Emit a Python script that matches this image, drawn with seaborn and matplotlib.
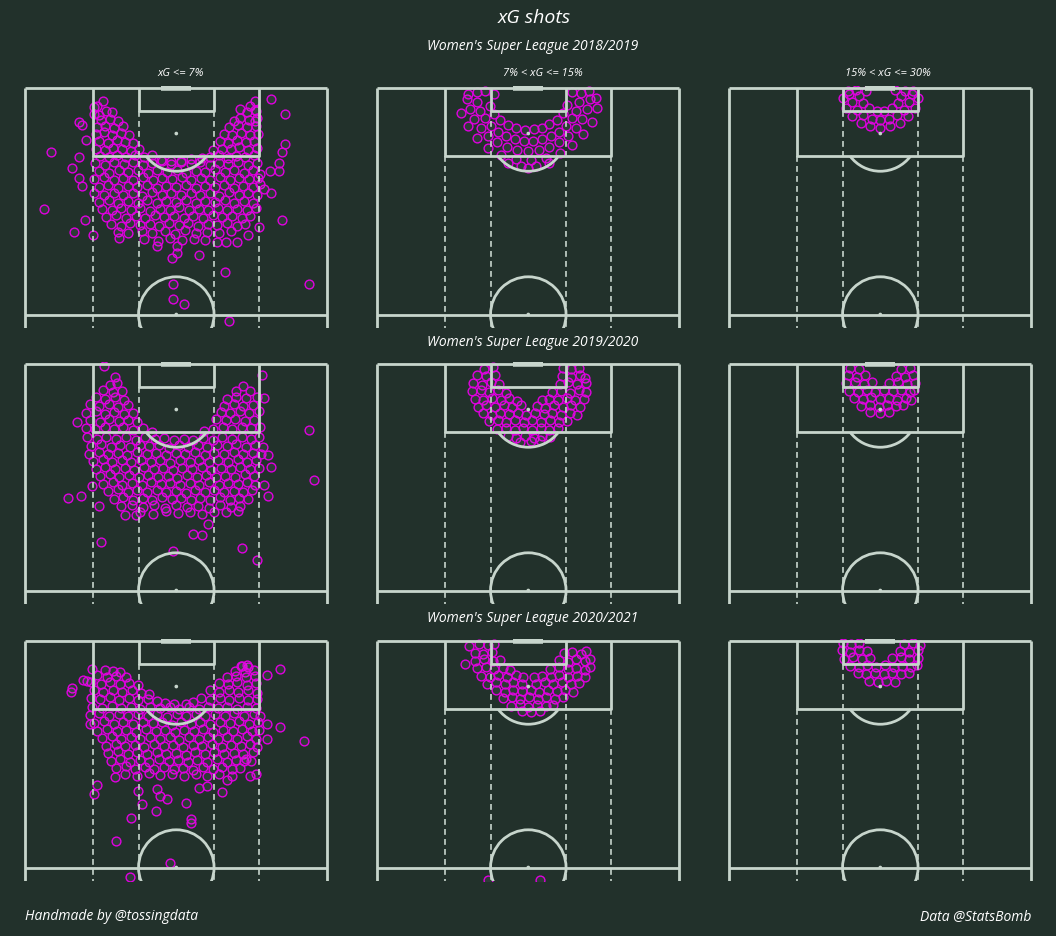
import pandas as pd
import matplotlib.pyplot as plt
import seaborn as sns
from matplotlib.patches import Arc, Circle

# shot locations (x = pitch width 0-80, y = pitch length, goal at 120)
# ---- Women's Super League 2018/2019 ----
wsl1819_low = [
    # left wing
    (20.5, 116.5), (19.0, 115.2), (21.5, 114.0), (23.0, 113.6), (19.5, 113.0), (20.0, 111.5), (22.5, 111.8),
    (24.5, 111.2), (19.0, 109.8), (21.2, 110.0), (23.5, 109.6), (25.8, 109.9), (18.6, 107.9), (20.8, 108.3),
    (23.0, 107.7), (25.3, 108.1), (27.5, 107.5), (19.5, 106.0), (21.8, 105.6), (24.2, 106.2), (26.4, 105.8),
    (28.6, 105.4), (18.8, 104.0), (21.0, 103.6), (23.3, 104.2), (25.6, 103.8), (27.9, 103.5), (30.2, 103.9),
    (19.8, 102.1), (22.1, 101.7), (24.4, 102.3), (26.8, 101.9), (29.1, 102.4), (31.4, 101.8), (33.5, 102.2),
    # right wing
    (60.8, 116.6), (59.5, 115.4), (61.2, 114.0), (58.8, 113.8), (57.0, 114.5), (61.5, 112.2), (59.3, 111.6),
    (57.0, 112.0), (55.2, 111.4), (61.0, 110.1), (58.6, 109.7), (56.3, 110.3), (54.0, 109.8), (61.6, 108.0),
    (59.4, 107.6), (57.1, 108.2), (54.8, 107.7), (52.6, 107.9), (60.7, 106.1), (58.4, 105.7), (56.0, 106.2),
    (53.7, 105.6), (51.5, 106.0), (61.3, 104.1), (59.0, 103.7), (56.7, 104.3), (54.4, 103.8), (52.1, 104.0),
    (49.8, 103.6), (60.5, 102.3), (58.2, 101.8), (55.9, 102.1), (53.6, 101.6), (51.3, 102.2), (49.0, 101.9),
    (46.8, 101.5), (36.0, 101.0), (38.5, 100.6), (41.2, 100.8), (43.8, 101.2),
    # main body
    (18.4, 100.2), (21.1, 99.6), (23.4, 100.4), (26.2, 99.8), (28.5, 100.5), (31.1, 99.7), (33.6, 100.3),
    (36.2, 100.6), (38.7, 99.9), (41.3, 100.4), (43.9, 99.8), (46.2, 100.5), (48.8, 99.6), (51.3, 100.3),
    (53.7, 99.9), (56.4, 100.4), (58.9, 99.7), (61.4, 100.2),
    (19.6, 98.1), (22.3, 97.6), (24.8, 98.4), (27.3, 97.8), (29.9, 98.3), (32.4, 97.5), (34.9, 98.2),
    (37.5, 97.7), (40.1, 98.4), (42.6, 97.6), (45.2, 98.1), (47.7, 97.8), (50.3, 98.5), (52.8, 97.7),
    (55.3, 98.2), (57.9, 97.6), (60.4, 98.3), (62.3, 97.4),
    (18.2, 96.0), (20.9, 96.5), (23.5, 95.7), (26.0, 96.3), (28.6, 95.8), (31.2, 96.4), (33.7, 95.6),
    (36.3, 96.2), (38.8, 95.9), (41.4, 96.5), (43.9, 95.7), (46.5, 96.3), (49.0, 95.8), (51.6, 96.4),
    (54.1, 95.6), (56.7, 96.1), (59.2, 95.9), (61.7, 96.3),
    (19.4, 93.9), (22.0, 94.4), (24.6, 93.6), (27.2, 94.2), (29.7, 93.7), (32.3, 94.3), (34.8, 93.5),
    (37.4, 94.1), (40.0, 93.8), (42.5, 94.4), (45.1, 93.6), (47.6, 94.2), (50.2, 93.7), (52.7, 94.3),
    (55.3, 93.5), (57.8, 94.0), (60.4, 93.8), (62.2, 94.5),
    (18.3, 92.2), (20.8, 91.6), (23.4, 92.3), (25.9, 91.7), (28.5, 92.1), (31.0, 91.5), (33.6, 92.4),
    (36.1, 91.8), (38.7, 92.2), (41.2, 91.6), (43.8, 92.3), (46.3, 91.7), (48.9, 92.1), (51.4, 91.5),
    (54.0, 92.4), (56.5, 91.8), (59.1, 92.2), (61.5, 91.6),
    (19.5, 89.8), (22.1, 90.3), (24.6, 89.6), (27.2, 90.2), (29.8, 89.7), (32.3, 90.4), (34.9, 89.5),
    (37.4, 90.1), (40.0, 89.9), (42.6, 90.3), (45.1, 89.6), (47.7, 90.2), (50.2, 89.8), (52.8, 90.4),
    (55.3, 89.6), (57.9, 90.0), (60.3, 89.7),
    (20.3, 88.1), (22.9, 87.6), (25.4, 88.3), (28.0, 87.7), (30.5, 88.2), (33.1, 87.5), (35.6, 88.0),
    (38.2, 87.8), (40.8, 88.4), (43.3, 87.6), (45.9, 88.1), (48.4, 87.7), (51.0, 88.3), (53.5, 87.6),
    (56.1, 88.0), (58.6, 87.8), (61.0, 88.2),
    (21.5, 85.9), (24.1, 86.4), (26.6, 85.7), (29.2, 86.2), (31.7, 85.6), (34.3, 86.3), (36.8, 85.8),
    (39.4, 86.1), (42.0, 85.5), (44.5, 86.2), (47.1, 85.7), (49.6, 86.4), (52.2, 85.8), (54.7, 86.1),
    (57.3, 85.6), (59.6, 86.0),
    (22.7, 84.0), (25.3, 83.6), (27.8, 84.3), (30.4, 83.7), (33.0, 84.1), (35.5, 83.5), (38.1, 84.2),
    (40.6, 83.8), (43.2, 84.3), (45.7, 83.6), (48.3, 84.0), (50.9, 83.7), (53.4, 84.2), (56.0, 83.5),
    (58.3, 84.0),
    (24.6, 82.0), (27.3, 81.6), (30.8, 82.2), (33.5, 81.5), (36.9, 82.1), (39.6, 81.4), (42.4, 82.3),
    (45.1, 81.7), (48.0, 82.0), (51.2, 81.5), (54.5, 82.1),
    (31.5, 80.1), (35.2, 79.6), (38.4, 80.3), (41.5, 79.8), (44.6, 80.0), (47.5, 79.7),
    # outliers
    (65.0, 117.1), (68.9, 113.2), (68.9, 105.2), (68.1, 103.0), (67.1, 100.1), (67.1, 98.1), (64.8, 98.1),
    (63.1, 93.2), (65.0, 92.1), (68.1, 85.0), (75.1, 68.1), (53.0, 71.2), (54.0, 58.2), (39.0, 68.1),
    (39.0, 64.1), (42.0, 62.9), (46.0, 75.9), (38.8, 74.9), (40.1, 76.2), (35.0, 78.2), (40.1, 78.2),
    (5.0, 88.1), (6.9, 103.0), (13.0, 82.0), (15.9, 85.0), (18.0, 81.0), (14.1, 101.9), (12.5, 98.8),
    (14.1, 96.1), (15.1, 94.1), (14.1, 111.0), (15.1, 110.2), (16.0, 106.2), (18.3, 115.1), (18.3, 113.2),
    (24.9, 80.2), (59.1, 81.0), (61.9, 83.3), (56.0, 79.3), (53.1, 79.3), (50.7, 79.3), (60.9, 114.2),
    (60.9, 111.2),
]
wsl1819_mid = [
    (29.8, 115.3), (31.0, 113.2), (32.6, 111.5), (34.5, 110.2), (36.8, 109.4), (39.2, 109.0), (41.5, 109.1),
    (43.6, 109.6), (45.6, 110.4), (47.5, 111.7), (49.1, 113.5), (50.3, 115.6),
    (26.5, 116.4), (27.3, 114.1), (28.5, 112.0), (30.1, 110.1), (32.0, 108.5), (34.1, 107.3), (36.4, 106.5),
    (38.8, 106.1), (41.2, 106.1), (43.6, 106.5), (45.9, 107.3), (48.0, 108.5), (49.9, 110.1), (51.5, 112.0),
    (52.7, 114.1), (53.5, 116.4),
    (23.7, 117.1), (24.5, 114.4), (25.7, 111.8), (27.4, 109.4), (29.4, 107.4), (31.8, 105.7), (34.4, 104.5),
    (37.1, 103.7), (40.0, 103.5), (42.9, 103.7), (45.6, 104.5), (48.2, 105.7), (50.6, 107.4), (52.6, 109.4),
    (54.3, 111.8), (55.5, 114.4), (56.3, 117.1),
    (22.1, 113.5), (23.9, 109.9), (26.3, 106.8), (29.4, 104.2), (32.9, 102.4), (36.7, 101.3), (40.7, 101.0),
    (44.6, 101.6), (48.3, 102.9), (51.7, 105.0), (54.6, 107.8), (56.8, 111.1), (58.3, 114.8),
    (34.5, 100.3), (38.0, 99.5), (42.0, 99.4), (45.5, 100.2), (40.0, 98.8),
    (24.0, 118.6), (26.3, 119.0), (28.6, 119.2), (30.8, 118.6), (51.5, 119.0), (53.9, 118.7), (56.2, 119.2),
    (58.0, 117.4),
]
wsl1819_high = [
    (34.4, 118.0), (35.4, 116.1), (37.0, 114.8), (39.0, 114.1), (41.0, 114.1), (43.0, 114.8), (44.6, 116.1),
    (45.6, 118.0),
    (31.6, 118.5), (32.4, 116.3), (33.7, 114.3), (35.5, 112.8), (37.7, 111.8), (40.0, 111.5), (42.3, 111.8),
    (44.5, 112.8), (46.3, 114.3), (47.6, 116.3), (48.4, 118.5),
    (30.0, 117.3), (30.9, 114.8), (32.6, 112.6), (34.8, 110.9), (37.3, 109.9), (40.0, 109.6), (42.7, 109.9),
    (45.3, 110.9), (47.4, 112.6), (49.1, 114.8), (49.9, 117.3),
    (31.5, 119.4), (33.6, 119.6), (36.2, 119.3), (46.5, 119.4), (48.6, 119.2), (44.0, 119.5),
]

# ---- Women's Super League 2019/2020 ----
wsl1920_low = [
    (23.8, 116.6), (24.3, 115.0), (22.5, 114.4), (20.6, 113.1), (23.1, 112.7), (25.6, 112.9), (18.7, 111.3),
    (21.2, 110.9), (23.7, 111.2), (26.1, 110.6), (17.1, 109.5), (19.6, 109.0), (22.1, 109.4), (24.6, 108.8),
    (27.1, 109.1), (16.2, 107.1), (18.6, 107.5), (21.1, 106.9), (23.6, 107.3), (26.1, 106.7), (28.5, 107.2),
    (17.2, 105.2), (19.7, 104.8), (22.2, 105.4), (24.7, 104.9), (27.2, 105.3), (29.7, 104.7), (31.2, 103.2),
    (16.0, 103.2), (18.5, 102.8), (21.0, 103.4), (23.5, 102.9), (26.0, 103.3), (28.5, 102.7), (33.5, 102.0),
    (57.8, 114.3), (55.8, 113.0), (59.6, 112.8), (61.3, 111.4), (58.4, 111.0), (55.9, 111.4), (53.5, 110.8),
    (60.2, 109.3), (57.7, 109.0), (55.2, 109.5), (52.6, 108.9), (61.8, 107.6), (59.3, 107.2), (56.8, 107.7),
    (54.3, 107.1), (51.8, 107.4), (60.6, 105.3), (58.1, 105.0), (55.6, 105.6), (53.1, 105.1), (50.6, 105.4),
    (62.3, 103.5), (59.8, 103.0), (57.3, 103.4), (54.8, 102.9), (52.3, 103.3), (49.8, 102.8), (47.3, 102.3),
    (16.3, 100.6), (18.9, 100.1), (21.5, 100.8), (24.1, 100.2), (26.6, 100.7), (29.2, 100.0), (31.7, 100.6),
    (34.3, 100.1), (36.8, 100.4), (39.4, 99.8), (42.0, 100.3), (44.5, 99.9), (47.1, 100.5), (49.6, 100.0),
    (52.2, 100.6), (54.7, 100.1), (57.3, 100.7), (59.8, 100.2), (62.0, 100.6),
    (17.5, 98.4), (20.1, 98.8), (22.7, 98.1), (25.2, 98.6), (27.8, 98.0), (30.3, 98.7), (32.9, 98.2),
    (35.5, 98.5), (38.0, 97.9), (40.6, 98.6), (43.1, 98.1), (45.7, 98.7), (48.2, 98.0), (50.8, 98.5),
    (53.3, 98.2), (55.9, 98.8), (58.4, 98.1), (60.9, 98.6), (63.0, 98.0),
    (16.8, 96.3), (19.4, 96.8), (21.9, 96.1), (24.5, 96.6), (27.0, 96.0), (29.6, 96.7), (32.2, 96.2),
    (34.7, 96.5), (37.3, 95.9), (39.8, 96.6), (42.4, 96.1), (44.9, 96.7), (47.5, 96.0), (50.0, 96.5),
    (52.6, 96.2), (55.2, 96.8), (57.7, 96.1), (60.2, 96.6), (62.4, 96.2),
    (17.9, 94.4), (20.5, 94.8), (23.0, 94.1), (25.6, 94.6), (28.1, 94.0), (30.7, 94.7), (33.3, 94.2),
    (35.8, 94.5), (38.4, 93.9), (40.9, 94.6), (43.5, 94.1), (46.0, 94.7), (48.6, 94.0), (51.1, 94.5),
    (53.7, 94.2), (56.3, 94.8), (58.8, 94.1), (61.2, 94.6),
    (18.6, 92.3), (21.2, 92.8), (23.7, 92.1), (26.3, 92.6), (28.8, 92.0), (31.4, 92.7), (34.0, 92.2),
    (36.5, 92.5), (39.1, 91.9), (41.6, 92.6), (44.2, 92.1), (46.7, 92.7), (49.3, 92.0), (51.9, 92.5),
    (54.4, 92.2), (57.0, 92.8), (59.5, 92.1), (61.8, 92.5),
    (19.8, 90.4), (22.4, 90.8), (24.9, 90.1), (27.5, 90.6), (30.0, 90.0), (32.6, 90.7), (35.1, 90.2),
    (37.7, 90.5), (40.3, 89.9), (42.8, 90.6), (45.4, 90.1), (47.9, 90.7), (50.5, 90.0), (53.0, 90.5),
    (55.6, 90.2), (58.1, 90.8), (60.6, 90.3),
    (20.5, 88.3), (23.1, 88.8), (25.7, 88.1), (28.2, 88.6), (30.8, 88.0), (33.3, 88.7), (35.9, 88.2),
    (38.4, 88.5), (41.0, 87.9), (43.6, 88.6), (46.1, 88.1), (48.7, 88.7), (51.2, 88.0), (53.8, 88.5),
    (56.3, 88.2), (58.8, 88.7), (60.9, 88.0),
    (22.0, 86.4), (24.6, 86.8), (27.1, 86.1), (29.7, 86.6), (32.2, 86.0), (34.8, 86.7), (37.4, 86.2),
    (39.9, 86.5), (42.5, 85.9), (45.0, 86.6), (47.6, 86.1), (50.1, 86.7), (52.7, 86.0), (55.2, 86.5),
    (57.8, 86.2), (60.1, 86.7),
    (23.4, 84.4), (26.0, 84.8), (28.5, 84.1), (31.1, 84.6), (33.6, 84.0), (36.2, 84.7), (38.8, 84.2),
    (41.3, 84.5), (43.9, 83.9), (46.4, 84.6), (49.0, 84.1), (51.5, 84.7), (54.1, 84.0), (56.6, 84.5),
    (58.9, 84.2),
    (25.4, 82.4), (28.3, 82.8), (31.2, 82.1), (34.1, 82.6), (37.0, 82.0), (39.9, 82.7), (42.8, 82.2),
    (45.7, 82.5), (48.6, 81.9), (51.5, 82.6), (54.4, 82.1), (57.0, 82.4),
    (30.5, 80.9), (33.8, 80.4), (37.2, 81.0), (40.4, 80.5), (43.6, 80.8), (46.9, 80.3), (50.0, 80.7),
    (53.2, 80.9),
    (20.9, 119.6), (62.8, 117.2), (63.3, 111.0), (75.1, 102.6), (76.5, 89.3), (64.3, 96.0), (65.2, 92.8),
    (64.4, 85.1), (63.1, 88.0), (11.4, 84.5), (14.8, 85.1), (13.6, 104.6), (19.5, 82.3), (20.1, 72.9),
    (39.1, 70.6), (57.5, 71.3), (61.5, 68.2), (44.5, 75.0), (46.8, 74.8), (48.3, 77.6), (29.4, 80.0),
    (26.4, 80.0), (56.4, 81.2), (17.6, 87.6),
]
wsl1920_mid = [
    (28.3, 118.8), (30.6, 119.2), (49.2, 119.1), (51.4, 118.7), (53.5, 119.0),
    (26.5, 117.2), (28.8, 116.8), (31.1, 117.1), (49.0, 117.0), (51.3, 116.6), (53.6, 117.2), (55.0, 116.4),
    (25.4, 115.0), (27.7, 114.6), (30.0, 115.2), (32.2, 114.7), (48.3, 114.9), (50.6, 115.3), (52.9, 114.7),
    (55.2, 115.1),
    (25.1, 112.9), (27.4, 113.3), (29.7, 112.7), (32.0, 113.1), (34.0, 112.5), (46.4, 112.6), (48.7, 113.0),
    (51.0, 112.5), (53.3, 113.2), (55.4, 112.7),
    (25.8, 110.9), (28.1, 110.5), (30.4, 111.1), (32.7, 110.6), (35.0, 111.0), (37.0, 110.3), (43.5, 110.4),
    (45.6, 110.9), (47.9, 110.4), (50.2, 111.0), (52.5, 110.5), (54.7, 110.9),
    (26.6, 108.8), (28.9, 109.3), (31.2, 108.7), (33.5, 109.1), (35.8, 108.6), (38.1, 109.2), (42.2, 109.0),
    (44.5, 108.5), (46.8, 109.1), (49.1, 108.6), (51.4, 109.2), (53.6, 108.8),
    (28.0, 107.1), (30.3, 106.6), (32.6, 107.2), (34.9, 106.7), (37.2, 107.0), (39.5, 106.5), (41.8, 107.2),
    (44.1, 106.7), (46.4, 107.1), (48.7, 106.6), (51.0, 107.0), (52.8, 106.5),
    (29.6, 104.9), (31.9, 105.3), (34.2, 104.7), (36.5, 105.2), (38.8, 104.8), (41.1, 105.3), (43.4, 104.7),
    (45.7, 105.1), (48.0, 104.6), (50.3, 105.0),
    (31.8, 102.8), (34.1, 103.2), (36.4, 102.6), (38.7, 103.1), (41.0, 102.7), (43.3, 103.2), (45.6, 102.7),
    (47.9, 103.0),
    (34.5, 101.0), (36.8, 100.5), (39.1, 100.9), (41.4, 100.4), (43.7, 101.0), (45.8, 100.6),
    (37.8, 99.4), (40.6, 99.6), (43.0, 99.8),
]
wsl1920_high = [
    (32.1, 119.0), (34.4, 118.7), (45.6, 118.8), (47.8, 119.1),
    (31.4, 117.1), (33.7, 116.7), (36.0, 117.2), (44.2, 117.0), (46.5, 116.6), (48.6, 117.1),
    (31.0, 115.0), (33.3, 115.3), (35.6, 114.8), (37.8, 115.2), (42.4, 115.0), (44.7, 115.3), (47.0, 114.8),
    (49.2, 115.1),
    (31.8, 113.0), (34.1, 112.6), (36.4, 113.1), (38.7, 112.7), (41.0, 113.2), (43.3, 112.8), (45.6, 113.1),
    (47.9, 112.6), (49.0, 113.3),
    (33.0, 111.1), (35.3, 110.7), (37.6, 111.2), (39.9, 110.8), (42.2, 111.1), (44.5, 110.6), (46.8, 111.0),
    (48.0, 110.5),
    (35.0, 109.0), (37.3, 109.3), (39.6, 108.8), (41.9, 109.2), (44.2, 108.9), (46.0, 109.3),
    (37.4, 107.3), (39.9, 107.0), (42.3, 107.4),
]

# ---- Women's Super League 2020/2021 ----
wsl2021_low = [
    (21.0, 112.4), (23.3, 112.1), (25.2, 111.9), (19.0, 111.0), (21.6, 110.6), (24.1, 110.9), (26.6, 110.4),
    (17.5, 109.1), (20.0, 108.7), (22.5, 109.2), (25.0, 108.6), (27.5, 109.0), (29.8, 108.3), (18.2, 107.0),
    (20.7, 106.6), (23.2, 107.1), (25.7, 106.5), (28.2, 107.0), (30.7, 106.4), (32.8, 105.9), (17.4, 105.0),
    (19.9, 104.6), (22.4, 105.1), (24.9, 104.5), (27.4, 105.0), (29.9, 104.4), (32.4, 104.8), (34.9, 104.2),
    (37.0, 103.6),
    (57.5, 113.5), (59.0, 113.2), (55.6, 112.2), (58.2, 111.9), (60.6, 112.3), (53.4, 110.6), (55.9, 110.9),
    (58.4, 110.4), (60.9, 110.8), (51.2, 109.0), (53.7, 108.6), (56.2, 109.1), (58.7, 108.5), (61.2, 108.9),
    (48.9, 107.1), (51.4, 106.6), (53.9, 107.1), (56.4, 106.5), (58.9, 107.0), (61.3, 106.4), (46.5, 105.0),
    (49.0, 104.5), (51.5, 105.0), (54.0, 104.4), (56.5, 104.9), (59.0, 104.3), (61.5, 104.8), (42.5, 103.5),
    (44.5, 103.9), (39.5, 103.3),
    (17.8, 102.6), (20.3, 102.2), (22.9, 102.8), (25.4, 102.3), (28.0, 102.7), (30.5, 102.1), (33.1, 102.6),
    (35.6, 102.2), (38.2, 102.5), (40.8, 102.0), (43.3, 102.6), (45.9, 102.1), (48.4, 102.7), (51.0, 102.2),
    (53.5, 102.6), (56.1, 102.1), (58.6, 102.7), (61.1, 102.3),
    (17.1, 100.5), (19.6, 100.9), (22.2, 100.2), (24.7, 100.7), (27.3, 100.1), (29.8, 100.8), (32.4, 100.3),
    (35.0, 100.6), (37.5, 100.0), (40.1, 100.7), (42.6, 100.2), (45.2, 100.8), (47.7, 100.1), (50.3, 100.6),
    (52.8, 100.3), (55.4, 100.9), (57.9, 100.2), (60.5, 100.7), (62.3, 100.1),
    (18.3, 98.4), (20.9, 98.8), (23.4, 98.1), (26.0, 98.6), (28.5, 98.0), (31.1, 98.7), (33.7, 98.2),
    (36.2, 98.5), (38.8, 97.9), (41.3, 98.6), (43.9, 98.1), (46.4, 98.7), (49.0, 98.0), (51.5, 98.5),
    (54.1, 98.2), (56.7, 98.8), (59.2, 98.1), (61.6, 98.6),
    (19.1, 96.3), (21.7, 96.8), (24.2, 96.1), (26.8, 96.6), (29.3, 96.0), (31.9, 96.7), (34.5, 96.2),
    (37.0, 96.5), (39.6, 95.9), (42.1, 96.6), (44.7, 96.1), (47.2, 96.7), (49.8, 96.0), (52.3, 96.5),
    (54.9, 96.2), (57.5, 96.8), (60.0, 96.1), (62.0, 96.5),
    (20.3, 94.4), (22.9, 94.8), (25.4, 94.1), (28.0, 94.6), (30.5, 94.0), (33.1, 94.7), (35.7, 94.2),
    (38.2, 94.5), (40.8, 93.9), (43.3, 94.6), (45.9, 94.1), (48.4, 94.7), (51.0, 94.0), (53.5, 94.5),
    (56.1, 94.2), (58.7, 94.8), (61.0, 94.1),
    (21.3, 92.3), (23.9, 92.8), (26.4, 92.1), (29.0, 92.6), (31.5, 92.0), (34.1, 92.7), (36.7, 92.2),
    (39.2, 92.5), (41.8, 91.9), (44.3, 92.6), (46.9, 92.1), (49.4, 92.7), (52.0, 92.0), (54.5, 92.5),
    (57.1, 92.2), (59.6, 92.7), (61.5, 92.0),
    (22.0, 90.4), (24.6, 90.8), (27.1, 90.1), (29.7, 90.6), (32.2, 90.0), (34.8, 90.7), (37.4, 90.2),
    (39.9, 90.5), (42.5, 89.9), (45.0, 90.6), (47.6, 90.1), (50.1, 90.7), (52.7, 90.0), (55.2, 90.5),
    (57.8, 90.2), (60.2, 90.6),
    (22.6, 88.3), (25.2, 88.8), (27.7, 88.1), (30.3, 88.6), (32.8, 88.0), (35.4, 88.7), (38.0, 88.2),
    (40.5, 88.5), (43.1, 87.9), (45.6, 88.6), (48.2, 88.1), (50.7, 88.7), (53.3, 88.0), (55.8, 88.5),
    (58.0, 88.2),
    (24.0, 86.4), (26.6, 86.8), (29.1, 86.1), (31.7, 86.6), (34.2, 86.0), (36.8, 86.7), (39.4, 86.2),
    (41.9, 86.5), (44.5, 85.9), (47.0, 86.6), (49.6, 86.1), (52.1, 86.7), (54.7, 86.0), (57.0, 86.4),
    (26.5, 84.8), (29.6, 84.4), (32.7, 85.0), (35.8, 84.5), (38.9, 84.9), (42.0, 84.3), (45.1, 84.8),
    (48.2, 84.4), (51.3, 84.9),
    (67.4, 112.7), (64.1, 111.0), (64.0, 98.0), (67.6, 97.4), (73.9, 93.5), (63.9, 94.2), (12.3, 107.7),
    (12.2, 106.5), (15.4, 109.8), (16.3, 109.5), (17.1, 98.1), (19.0, 82.0), (18.3, 79.6), (23.7, 83.9),
    (29.9, 80.2), (31.0, 76.9), (35.0, 80.9), (35.6, 78.9), (37.6, 78.1), (42.6, 77.0), (34.7, 74.9),
    (44.0, 72.8), (44.0, 71.8), (28.1, 73.1), (23.9, 66.9), (38.4, 61.2), (27.7, 57.6), (52.1, 80.0),
    (45.9, 81.2), (48.0, 81.6), (53.5, 83.2), (54.8, 84.4), (59.4, 84.4), (61.0, 84.7), (58.4, 88.7),
    (59.9, 88.2), (17.8, 112.6), (57.2, 113.4), (58.8, 113.6),
]
wsl2021_mid = [
    (24.2, 118.7), (27.0, 119.2), (29.3, 118.9), (31.0, 119.3),
    (25.8, 117.0), (28.0, 116.6), (30.3, 117.1), (49.4, 116.8), (51.7, 117.2), (54.0, 116.7), (55.3, 117.4),
    (26.0, 114.9), (28.3, 115.3), (30.6, 114.7), (32.6, 115.1), (48.1, 115.0), (50.4, 114.6), (52.7, 115.2),
    (55.0, 114.8), (56.4, 115.3),
    (23.3, 114.1), (26.4, 112.8), (28.7, 113.2), (31.0, 112.6), (33.3, 113.0), (35.2, 112.5), (45.8, 112.7),
    (48.1, 113.1), (50.4, 112.6), (52.7, 113.0), (55.0, 112.5), (56.4, 113.2),
    (27.5, 110.9), (29.8, 110.5), (32.1, 111.1), (34.4, 110.6), (36.7, 111.0), (38.6, 110.4), (41.6, 110.6),
    (43.6, 110.9), (45.9, 110.4), (48.2, 111.0), (50.5, 110.5), (52.8, 110.9), (55.0, 110.4),
    (29.1, 108.8), (31.4, 109.3), (33.7, 108.7), (36.0, 109.1), (38.3, 108.6), (42.0, 108.8), (44.3, 109.2),
    (46.6, 108.7), (48.9, 109.1), (51.2, 108.6), (53.5, 109.0),
    (31.4, 107.1), (33.7, 106.6), (36.0, 107.2), (38.3, 106.7), (40.6, 107.1), (42.9, 106.6), (45.2, 107.2),
    (47.5, 106.7), (49.8, 107.0), (51.8, 106.6),
    (33.3, 104.9), (35.6, 105.3), (37.9, 104.7), (40.2, 105.2), (42.5, 104.8), (44.8, 105.3), (47.1, 104.7),
    (49.3, 105.1),
    (35.4, 102.9), (37.7, 103.3), (40.0, 102.7), (42.3, 103.2), (44.6, 102.8), (46.6, 103.1),
    (38.4, 101.4), (40.8, 101.2), (43.0, 101.6),
    (29.2, 56.6), (43.2, 56.6),
]
wsl2021_high = [
    (30.0, 119.5), (32.2, 119.2), (34.4, 119.6), (46.4, 119.4), (48.6, 119.6), (50.4, 119.1),
    (29.8, 117.6), (32.1, 117.2), (34.4, 117.7), (36.6, 117.3), (45.3, 117.5), (47.6, 117.1), (49.9, 117.6),
    (30.5, 115.4), (32.8, 115.8), (35.1, 115.3), (37.4, 115.7), (43.1, 115.5), (45.4, 115.8), (47.7, 115.3),
    (50.0, 115.6),
    (32.0, 113.5), (34.3, 113.1), (36.6, 113.6), (38.9, 113.2), (41.2, 113.6), (43.5, 113.1), (45.8, 113.5),
    (48.1, 113.2), (49.8, 113.7),
    (34.0, 111.6), (36.3, 111.2), (38.6, 111.7), (40.9, 111.3), (43.2, 111.7), (45.5, 111.2), (47.5, 111.5),
    (37.0, 109.6), (39.3, 109.2), (41.6, 109.5), (43.9, 109.3),
]

seasons = ["Women's Super League 2018/2019", "Women's Super League 2019/2020",
           "Women's Super League 2020/2021"]
bins = ['xG <= 7%', '7% < xG <= 15%', '15% < xG <= 30%']
shots = [[wsl1819_low, wsl1819_mid, wsl1819_high],
         [wsl1920_low, wsl1920_mid, wsl1920_high],
         [wsl2021_low, wsl2021_mid, wsl2021_high]]

bg = '#22312b'
line_col = '#c7d5cc'
shot_col = '#e000e0'

plt.rcParams['font.family'] = ['Open Sans', 'DejaVu Sans']
plt.rcParams['font.style'] = 'italic'


def draw_pitch(ax):
    # pitch lines sit on top of the shots
    kw = dict(color=line_col, lw=2, solid_capstyle='butt', zorder=4)
    ax.plot([0, 0], [50, 120], **kw)
    ax.plot([80, 80], [50, 120], **kw)
    ax.plot([0, 80], [120, 120], **kw)
    ax.plot([0, 80], [60, 60], **kw)
    ax.plot([18, 18, 62, 62], [120, 102, 102, 120], **kw)
    ax.plot([30, 30, 50, 50], [120, 114, 114, 120], **kw)
    ax.plot([36, 44], [120.2, 120.2], color=line_col, lw=4, solid_capstyle='butt', zorder=4)
    ax.add_patch(Arc((40, 108), 20, 20, theta1=216.87, theta2=323.13, color=line_col, lw=2, zorder=4))
    ax.add_patch(Circle((40, 60), 10, fill=False, ec=line_col, lw=2, zorder=4))
    ax.add_patch(Circle((40, 108), 0.3, color=line_col, zorder=4))
    ax.add_patch(Circle((40, 60), 0.3, color=line_col, zorder=4))
    dkw = dict(color=line_col, lw=1.2, ls=(0, (3.5, 2.5)), zorder=4)
    for x in (18, 62):
        ax.plot([x, x], [102, 50], **dkw)
    for x in (30, 50):
        ax.plot([x, x], [114, 50], **dkw)


fig = plt.figure(figsize=(10.56, 9.36), dpi=100, facecolor=bg)
W, H = 1056, 936
sx, sy = 3.775, 3.77
col_left = [25.3, 377.3, 729.3]
goal_top = [88.3, 364.3, 641.3]
x0, x1 = -0.6, 80.6
y0, y1 = 56.3, 120.6

for r in range(3):
    for c in range(3):
        lp = col_left[c] + x0 * sx
        tp = goal_top[r] - (y1 - 120) * sy
        wp = (x1 - x0) * sx
        hp = (y1 - y0) * sy
        ax = fig.add_axes([lp / W, 1 - (tp + hp) / H, wp / W, hp / H])
        ax.set_facecolor(bg)
        draw_pitch(ax)
        df = pd.DataFrame(shots[r][c], columns=['x', 'y'])
        sns.scatterplot(data=df, x='x', y='y', ax=ax, s=40, linewidth=1.0,
                        facecolor=(0.78, 0.78, 0.78, 0.08), edgecolor=shot_col, zorder=2)
        ax.set_xlim(x0, x1)
        ax.set_ylim(y0, y1)
        ax.axis('off')

fig.text(534 / W, 1 - 18 / H, 'xG shots', ha='center', va='center', color='white', fontsize=14)
for r, ypx in enumerate([46, 343, 618]):
    fig.text(533 / W, 1 - ypx / H, seasons[r], ha='center', va='center', color='white', fontsize=10)
for c, xpx in enumerate([181, 543, 888]):
    fig.text(xpx / W, 1 - 73 / H, bins[c], ha='center', va='center', color='white', fontsize=8)
fig.text(25 / W, 1 - 917 / H, 'Handmade by @tossingdata', ha='left', va='center', color='white', fontsize=10)
fig.text(1031 / W, 1 - 917 / H, 'Data @StatsBomb', ha='right', va='center', color='white', fontsize=10)

plt.savefig('out.png', dpi=100, facecolor=bg)
